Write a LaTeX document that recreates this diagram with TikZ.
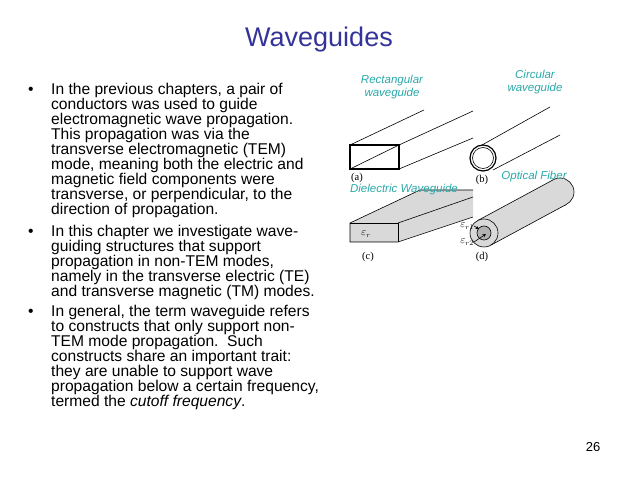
\documentclass[tikz,border=0pt]{standalone}
\usepackage{fontspec}
\setmainfont{Liberation Sans}
\newfontfamily\serif{Liberation Serif}
\definecolor{teal1}{HTML}{2AA8A8}
\definecolor{titleblue}{HTML}{333399}
\begin{document}
\begin{tikzpicture}[x=1pt,y=-1pt,
  body/.style={font=\fontsize{15.6}{15}\selectfont,anchor=base west,inner sep=0pt},
  lab/.style={font=\fontsize{11.5}{13}\selectfont\itshape,text=teal1,align=center,inner sep=0pt},
  fig/.style={font=\serif\fontsize{10.5}{11}\selectfont,inner sep=0pt},
  wire/.style={line width=0.6pt}]
\useasboundingbox (0,0) rectangle (638,478);
\node[font=\fontsize{27}{30}\selectfont,text=titleblue] (title) at (319,40) {Waveguides};
% bullets
\node[body] (b1) at (28,95) {•};
\node[body] (b2) at (28,237) {•};
\node[body] (b3) at (28,317) {•};
\node[body] (l1) at (51,95) {In the previous chapters, a pair of};
\node[body] (l2) at (51,110) {conductors was used to guide};
\node[body] (l3) at (51,125) {electromagnetic wave propagation.};
\node[body] (l4) at (51,140) {This propagation was via the};
\node[body] (l5) at (51,155) {transverse electromagnetic (TEM)};
\node[body] (l6) at (51,170) {mode, meaning both the electric and};
\node[body] (l7) at (51,185) {magnetic field components were};
\node[body] (l8) at (51,200) {transverse, or perpendicular, to the};
\node[body] (l9) at (51,215) {direction of propagation.};
\node[body] (m1) at (51,237) {In this chapter we investigate wave-};
\node[body] (m2) at (51,252) {guiding structures that support};
\node[body] (m3) at (51,267) {propagation in non-TEM modes,};
\node[body] (m4) at (51,282) {namely in the transverse electric (TE)};
\node[body] (m5) at (51,297) {and transverse magnetic (TM) modes.};
\node[body] (n1) at (51,317) {In general, the term waveguide refers};
\node[body] (n2) at (51,332) {to constructs that only support non-};
\node[body] (n3) at (51,347) {TEM mode propagation.\ \ Such};
\node[body] (n4) at (51,362) {constructs share an important trait:};
\node[body] (n5) at (51,377) {they are unable to support wave};
\node[body] (n6) at (51,392) {propagation below a certain frequency,};
\node[body] (n7) at (51,407) {termed the \textit{cutoff frequency}.};
\node[font=\fontsize{13}{14}\selectfont] (pg) at (593,447) {26};
% (a) rectangular
\draw[wire] (350,145) -- (424,110);
\draw[wire] (399,145) -- (473,111);
\draw[wire] (399,169) -- (473,138);
\draw[wire] (350,169) -- (399,145);
\draw[line width=1.6pt] (350,145) rectangle (399,169);
\node[fig] (a) at (357,178) {(a)};
% (b) circular
\draw[wire] (482,145) -- (550,107);
\draw[wire] (493,170) -- (560,135);
\draw[line width=1.2pt,fill=white] (483,158) circle (13);
\draw[wire] (483,158) circle (10.5);
\node[fig] (b) at (482,180) {(b)};
% (c) slab
\fill[gray!30] (350,223) -- (420,190) -- (473,190) -- (473,217) -- (398,242) -- (350,242) -- cycle;
\draw[wire] (473,190) -- (420,190) -- (350,223) -- (350,242) -- (398,242) -- (473,217);
\draw[wire] (350,223) -- (398,223) -- (398,242);
\draw[wire] (398,223) -- (473,197);
\node[fig] (er) at (366,234) {$\varepsilon_r$};
\node[fig] (c) at (368,257) {(c)};
% (d) fiber
\draw[wire,fill=gray!30] (560,192) circle (14);
\fill[gray!30] (477.4,220.7) -- (553.4,179.7) -- (566.6,204.3) -- (490.6,245.3) -- cycle;
\draw[wire] (477.4,220.7) -- (553.4,179.7);
\draw[wire] (490.6,245.3) -- (566.6,204.3);
\draw[wire,fill=gray!30] (484,233) circle (14);
\draw[wire,fill=gray!60] (484,233) circle (7);
\node[fig,anchor=east] (e1) at (474,226) {$\varepsilon_{r1}$};
\node[fig,anchor=east] (e2) at (474,242) {$\varepsilon_{r2}$};
\draw[wire,->,>=stealth] (e1.east) -- (479,229);
\draw[wire,->,>=stealth] (e2.east) -- (486,234);
\node[fig] (d) at (482,257) {(d)};
% labels
\node[lab] (la) at (392,87) {Rectangular\\waveguide};
\node[lab] (lb) at (535,82) {Circular\\waveguide};
\node[lab] (ld) at (534,177) {Optical Fiber};
\node[lab] (lc) at (404,190) {Dielectric Waveguide};
\end{tikzpicture}
\end{document}
